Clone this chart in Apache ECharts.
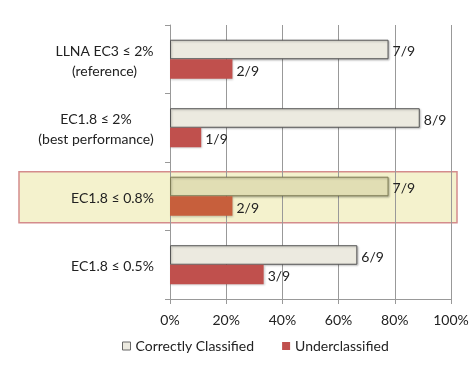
<!DOCTYPE html>
<html><head><meta charset="utf-8">
<script src="https://cdn.jsdelivr.net/npm/echarts@6/dist/echarts.min.js"></script>
<style>html,body{margin:0;padding:0;background:#fff}#c{width:474px;height:372px}</style>
</head><body><div id="c"></div>
<script>
const categories = ["LLNA EC3 ≤ 2%\n(reference)", "EC1.8 ≤ 2%\n(best performance)", "EC1.8 ≤ 0.8%", "EC1.8 ≤ 0.5%"];
const correctLabels = ["7/9", "8/9", "7/9", "6/9"];
const underLabels = ["2/9", "1/9", "2/9", "3/9"];
const correctValues = [7/9, 8/9, 7/9, 6/9];
const underValues = [2/9, 1/9, 2/9, 3/9];
const xTicks = [0, 0.2, 0.4, 0.6, 0.8, 1];
const highlightCategory = "EC1.8 ≤ 0.8%";

const FONT = 'Lato';
const FS = 14;
const hiIdx = categories.indexOf(highlightCategory);

// centre each line of a multi-line label within its block (block stays right-aligned)
const ctx = document.createElement('canvas').getContext('2d');
ctx.font = FS + 'px ' + FONT;
const rich = {};
categories.forEach((c, i) => {
  const w = Math.max(...c.split('\n').map(l => ctx.measureText(l).width));
  rich['c' + i] = {width: Math.ceil(w), align: 'center', fontSize: FS, lineHeight: 20, color: '#222', fontFamily: FONT};
});

const chart = echarts.init(document.getElementById('c'));
chart.setOption({
  animation: false,
  textStyle: {fontFamily: FONT},
  grid: {left: 170, right: 23, top: 25, bottom: 73},
  legend: {
    bottom: 14, left: 117, itemWidth: 8, itemHeight: 8, itemGap: 28,
    textStyle: {fontFamily: FONT, fontSize: 14, color: '#222'},
    data: [
      {name: 'Correctly Classified', icon: 'rect', itemStyle: {color: '#ECEAE0', borderColor: '#666', borderWidth: 1}},
      {name: 'Underclassified', icon: 'rect', itemStyle: {color: '#C0504D'}}
    ]
  },
  xAxis: {
    type: 'value', min: 0, max: 1, interval: 0.2,
    axisLine: {show: true, lineStyle: {color: '#999'}},
    axisTick: {show: true, length: 5, lineStyle: {color: '#999'}},
    splitLine: {lineStyle: {color: '#999'}},
    axisLabel: {margin: 14, fontSize: 14, color: '#222', fontFamily: FONT,
      formatter: v => xTicks.some(t => Math.abs(t - v) < 1e-9) ? Math.round(v * 100) + '%' : ''}
  },
  yAxis: {
    type: 'category', data: categories, inverse: true,
    axisLine: {show: true, lineStyle: {color: '#999'}},
    axisTick: {show: true, length: 5, lineStyle: {color: '#999'}},
    axisLabel: {margin: 16, fontSize: FS, lineHeight: 20, color: '#222', fontFamily: FONT, align: 'right',
      padding: [4, 0, 0, 0],
      formatter: (v, i) => v.split('\n').map(l => '{c' + i + '|' + l + '}').join('\n'),
      rich: rich}
  },
  series: [
    {
      name: 'Correctly Classified', type: 'bar',
      data: correctValues.map((v, i) => i === hiIdx
        ? {value: v, itemStyle: {color: '#E1DEB4', borderColor: '#7E7C55'}} : v),
      barGap: '0%', barCategoryGap: '43%',
      itemStyle: {color: '#ECEAE0', borderColor: '#555', borderWidth: 1,
        shadowColor: 'rgba(0,0,0,0.25)', shadowBlur: 2, shadowOffsetX: 1, shadowOffsetY: 1},
      label: {show: true, position: 'right', distance: 4, fontSize: 14, color: '#222', fontFamily: FONT,
        offset: [0, 2], formatter: p => correctLabels[p.dataIndex]}
    },
    {
      name: 'Underclassified', type: 'bar',
      data: underValues.map((v, i) => i === hiIdx ? {value: v, itemStyle: {color: '#C75F3C'}} : v),
      itemStyle: {color: '#C0504D', shadowColor: 'rgba(0,0,0,0.2)', shadowBlur: 2, shadowOffsetX: 1, shadowOffsetY: 1},
      label: {show: true, position: 'right', distance: 4, fontSize: 14, color: '#222', fontFamily: FONT,
        offset: [0, 2], formatter: p => underLabels[p.dataIndex]}
    }
  ]
});

// highlight annotation box around the chosen category (drawn beneath grid lines and bars)
const cy = chart.convertToPixel({yAxisIndex: 0}, hiIdx);
const x100 = chart.convertToPixel({xAxisIndex: 0}, 1);
const boxH = 51;
chart.setOption({
  graphic: [{
    type: 'rect', z: -10,
    shape: {x: 19, y: cy - boxH / 2 + 1, width: x100 + 6 - 19, height: boxH},
    style: {fill: '#F4F2CD', stroke: '#D48C8C', lineWidth: 1.5}
  }]
});
</script></body></html>
